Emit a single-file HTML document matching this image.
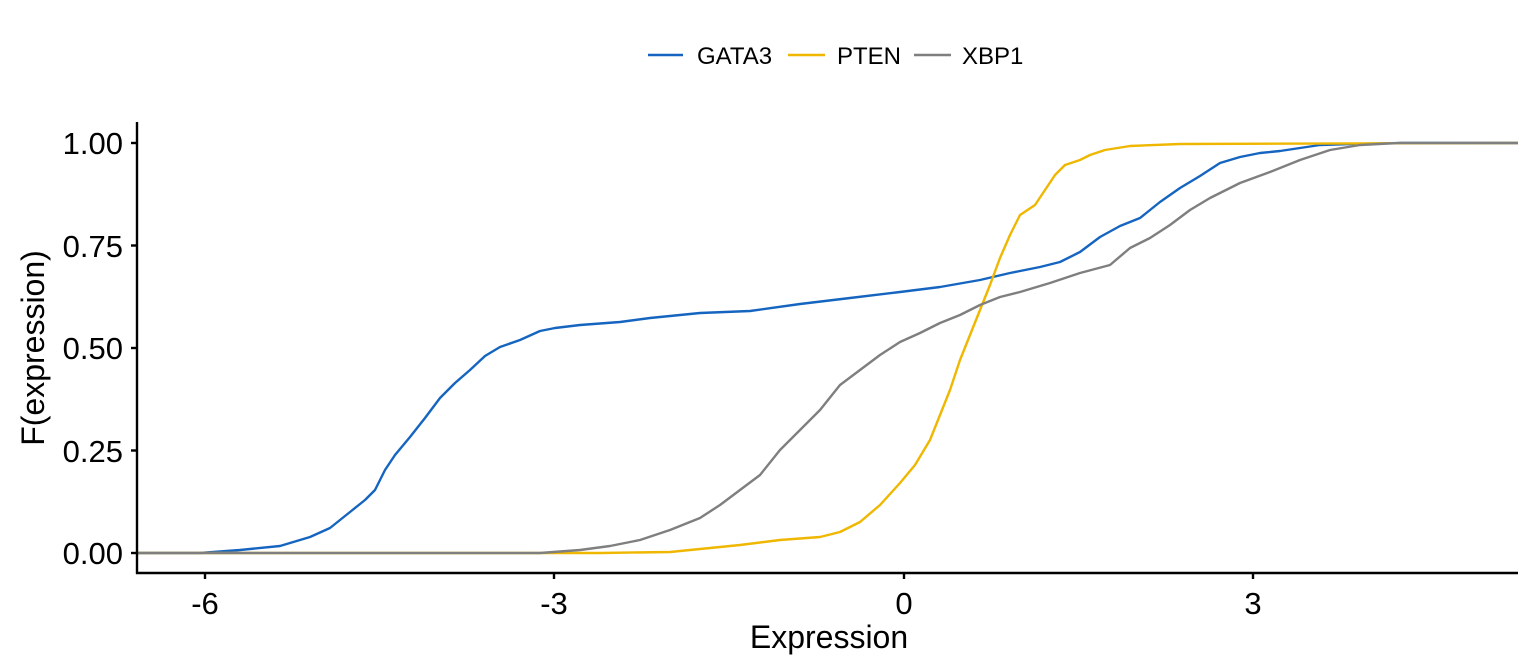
<!DOCTYPE html>
<html><head><style>body{margin:0;background:#fff}svg{display:block}text{font-family:"Liberation Sans",Arial,sans-serif}</style></head>
<body>
<svg width="1536" height="672" viewBox="0 0 1536 672">
<g font-size="24" fill="#000">
<line x1="648" y1="55" x2="683" y2="55" stroke="#1565C0" stroke-width="2.5"/>
<text x="697" y="64">GATA3</text>
<line x1="788" y1="55" x2="825" y2="55" stroke="#EFB700" stroke-width="2.5"/>
<text x="837" y="64">PTEN</text>
<line x1="914" y1="55" x2="951" y2="55" stroke="#7F7F7F" stroke-width="2.5"/>
<text x="962" y="64">XBP1</text>
</g>
<g fill="none" stroke-width="2.4" stroke-linejoin="round">
<polyline stroke="#1565C0" points="137,553 200,553 240,550 280,546 290,543 310,537 330,528 350,512 365,500 375,490 385,470 395,455 410,437 425,418 440,398 455,383 470,370 485,356 500,347 520,340 540,331 555,328 580,325 620,322 650,318 700,313 750,311 800,304 850,298 900,292 940,287 980,280 1010,273 1040,267 1060,262 1080,252 1100,237 1120,226 1140,218 1160,202 1180,188 1200,176 1220,163 1240,157 1260,153 1280,151 1300,148 1320,145 1350,144 1400,143 1518,143"/>
<polyline stroke="#EFB700" points="137,553 600,553 670,552 700,549 740,545 780,540 820,537 840,532 860,522 880,505 900,483 915,465 930,440 940,415 950,390 960,360 970,335 980,310 990,285 1000,258 1010,235 1020,215 1035,205 1045,190 1055,175 1065,165 1080,160 1090,155 1105,150 1130,146 1180,144 1518,143"/>
<polyline stroke="#7F7F7F" points="137,553 540,553 580,550 610,546 640,540 670,530 700,518 720,505 740,490 760,475 780,450 800,430 820,410 840,385 860,370 880,355 900,342 920,333 940,323 960,315 980,305 1000,297 1020,292 1050,283 1080,273 1110,265 1130,248 1150,238 1170,225 1190,210 1210,198 1240,183 1270,172 1300,160 1330,150 1360,145 1400,143 1518,143"/>
</g>
<g stroke="#000" stroke-width="2.4">
<line x1="137" y1="122" x2="137" y2="574"/>
<line x1="136" y1="573" x2="1518" y2="573"/>
<line x1="131" y1="143" x2="137" y2="143"/><line x1="131" y1="245.5" x2="137" y2="245.5"/>
<line x1="131" y1="348" x2="137" y2="348"/><line x1="131" y1="450.5" x2="137" y2="450.5"/>
<line x1="131" y1="553" x2="137" y2="553"/>
<line x1="205" y1="573" x2="205" y2="579"/><line x1="554" y1="573" x2="554" y2="579"/>
<line x1="904" y1="573" x2="904" y2="579"/><line x1="1253" y1="573" x2="1253" y2="579"/>
</g>
<g font-size="31" fill="#000" text-anchor="end">
<text x="123" y="154">1.00</text><text x="123" y="257">0.75</text><text x="123" y="359">0.50</text>
<text x="123" y="462">0.25</text><text x="123" y="564">0.00</text>
</g>
<g font-size="31" fill="#000" text-anchor="middle">
<text x="205" y="614">-6</text><text x="554" y="614">-3</text><text x="904" y="614">0</text><text x="1253" y="614">3</text>
<text x="829" y="648" font-size="32">Expression</text>
<text transform="translate(44,348) rotate(-90)" font-size="32">F(expression)</text>
</g>
</svg>
</body></html>
